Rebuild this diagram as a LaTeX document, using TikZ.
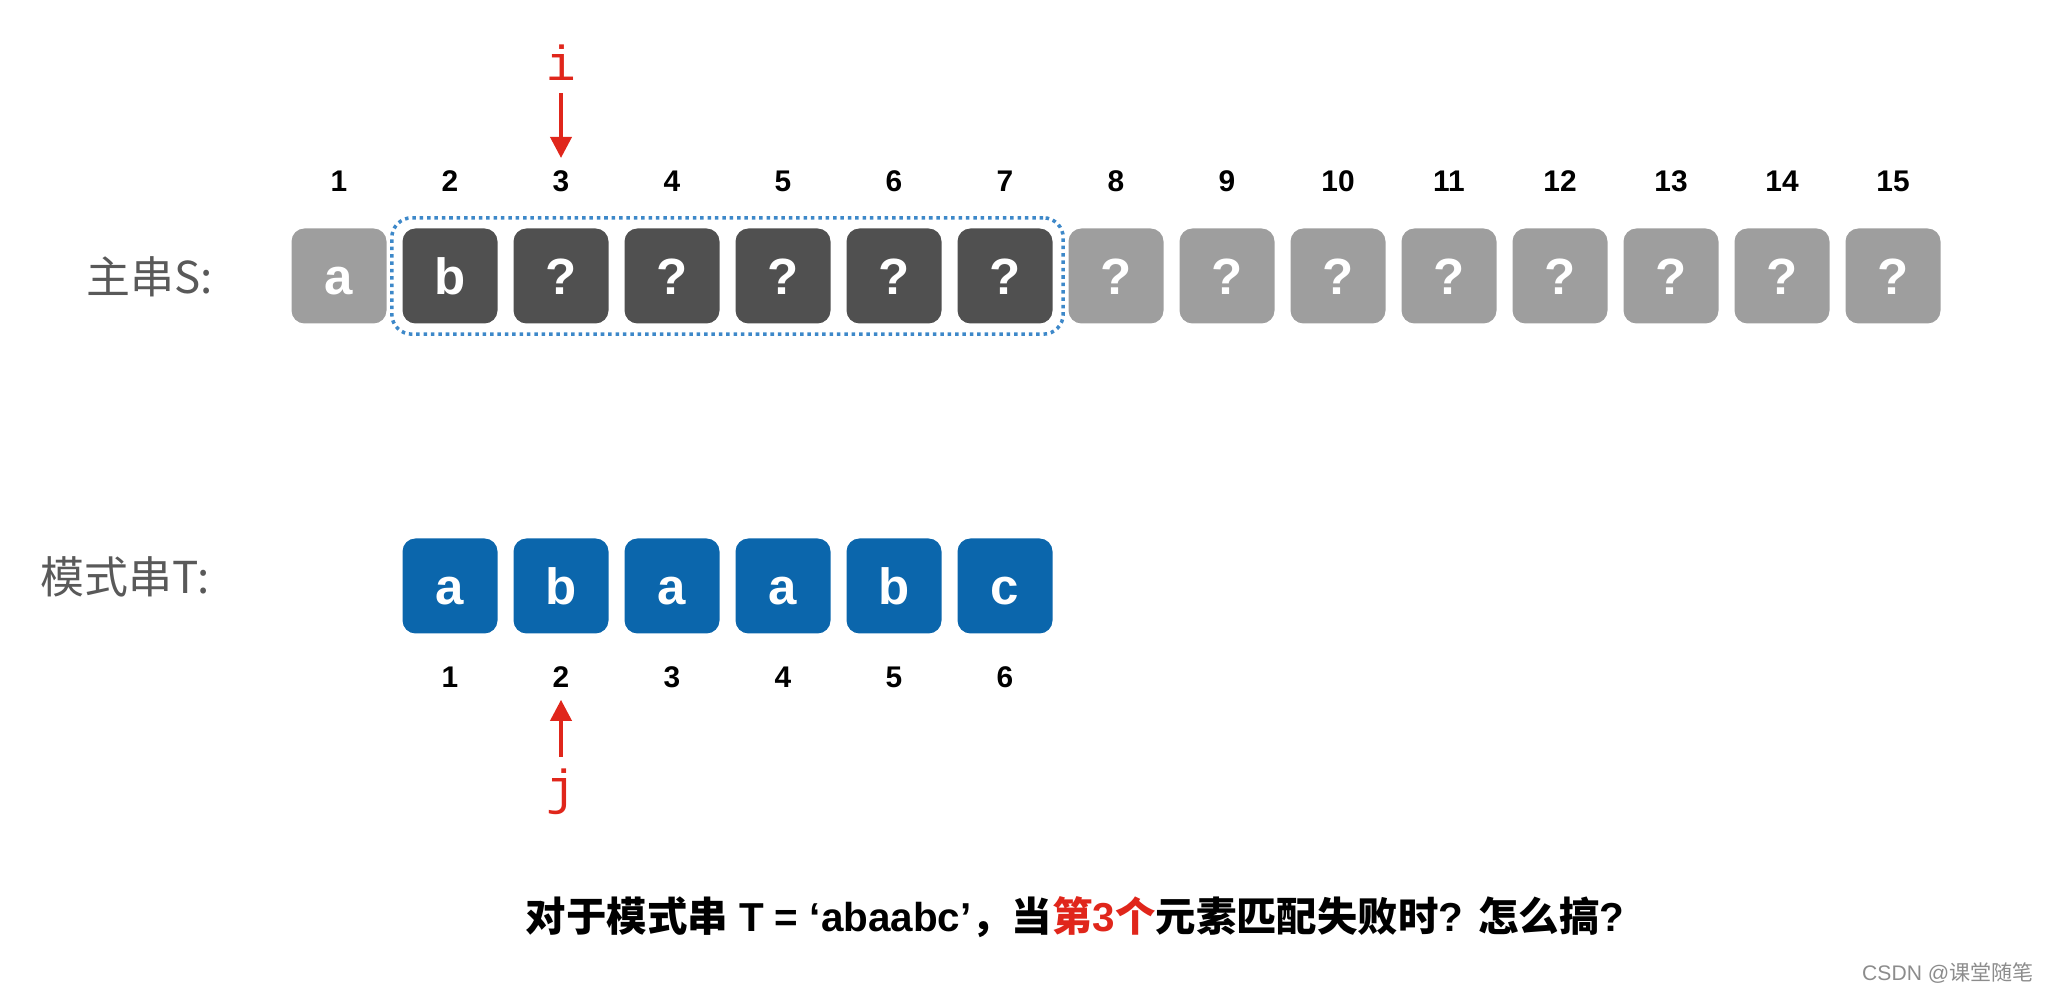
\documentclass[tikz,border=0pt]{standalone}
\usepackage{fontspec}
\setmainfont{Liberation Sans}
\newfontfamily\cjk{Noto Sans CJK SC}
\newfontfamily\mono{Liberation Mono}
\usetikzlibrary{arrows.meta,positioning,fit}
\definecolor{lightcell}{HTML}{9E9E9E}
\definecolor{darkcell}{HTML}{505050}
\definecolor{patcell}{HTML}{0B66AC}
\definecolor{ptrred}{HTML}{E0261B}
\definecolor{dotblue}{HTML}{3D88C9}

\begin{document}
\begin{tikzpicture}[
  cell/.style={rounded corners=1.3mm,minimum size=9.5mm,inner sep=0pt,text height=10.4pt,text depth=0pt,
    text=white,font=\fontsize{14.5}{16}\selectfont\bfseries},
  idx/.style={font=\fontsize{8.5}{10}\selectfont\bfseries},
  lbl/.style={text=black!65,font=\cjk\fontsize{12.5}{14}\selectfont,anchor=west,inner sep=0pt},
  ptr/.style={ptrred,line width=1.1pt,-{Triangle[width=6pt,length=6pt]}},
  ptrlbl/.style={text=ptrred,font=\mono\fontsize{14}{16}\selectfont}]
\useasboundingbox (0,0) rectangle (20.70,9.91);
\node[lbl] (slbl) at (0.86,7.14) {主串S:};
\node[lbl] (tlbl) at (0.40,4.14) {模式串T:};
\foreach \k/\ch/\c in {1/a/lightcell,2/b/darkcell,3/?/darkcell,4/?/darkcell,5/?/darkcell,
  6/?/darkcell,7/?/darkcell,8/?/lightcell,9/?/lightcell,10/?/lightcell,11/?/lightcell,
  12/?/lightcell,13/?/lightcell,14/?/lightcell,15/?/lightcell}
{
  \node[cell,fill=\c] (s\k) at ({3.39+1.11*(\k-1)},7.15) {\ch};
  \node[idx] (sn\k) at ({3.39+1.11*(\k-1)},8.10) {\k};
}
\foreach \ch [count=\k] in {a,b,a,a,b,c}
{
  \node[cell,fill=patcell] (t\k) at ({4.50+1.11*(\k-1)},4.05) {\ch};
  \node[idx] (tn\k) at ({4.50+1.11*(\k-1)},3.14) {\k};
}
\node[draw=dotblue,line width=1pt,dash pattern=on 1pt off 1.1pt,rounded corners=2mm,
  inner sep=1mm,fit=(s2)(s7)] (win) {};
\node[ptrlbl] (i) at (5.61,9.28) {i};
\draw[ptr] (i) -- (sn3);
\node[ptrlbl] (j) at (5.61,1.99) {j};
\draw[ptr] (j) -- (tn2);
\node[font=\fontsize{11.5}{14}\selectfont\bfseries] (q) at (10.75,0.74)
  {{\cjk 对于模式串} T = ‘abaabc’{\cjk ，当\textcolor{ptrred}{第}}\textcolor{ptrred}{3}{\cjk\textcolor{ptrred}{个}元素匹配失败时}? {\cjk 怎么搞}?};
\node[anchor=east,text=black!45,font=\fontsize{6}{8}\selectfont] (wm) at (20.46,0.18) {CSDN @{\cjk 课堂随笔}};
\end{tikzpicture}
\end{document}
